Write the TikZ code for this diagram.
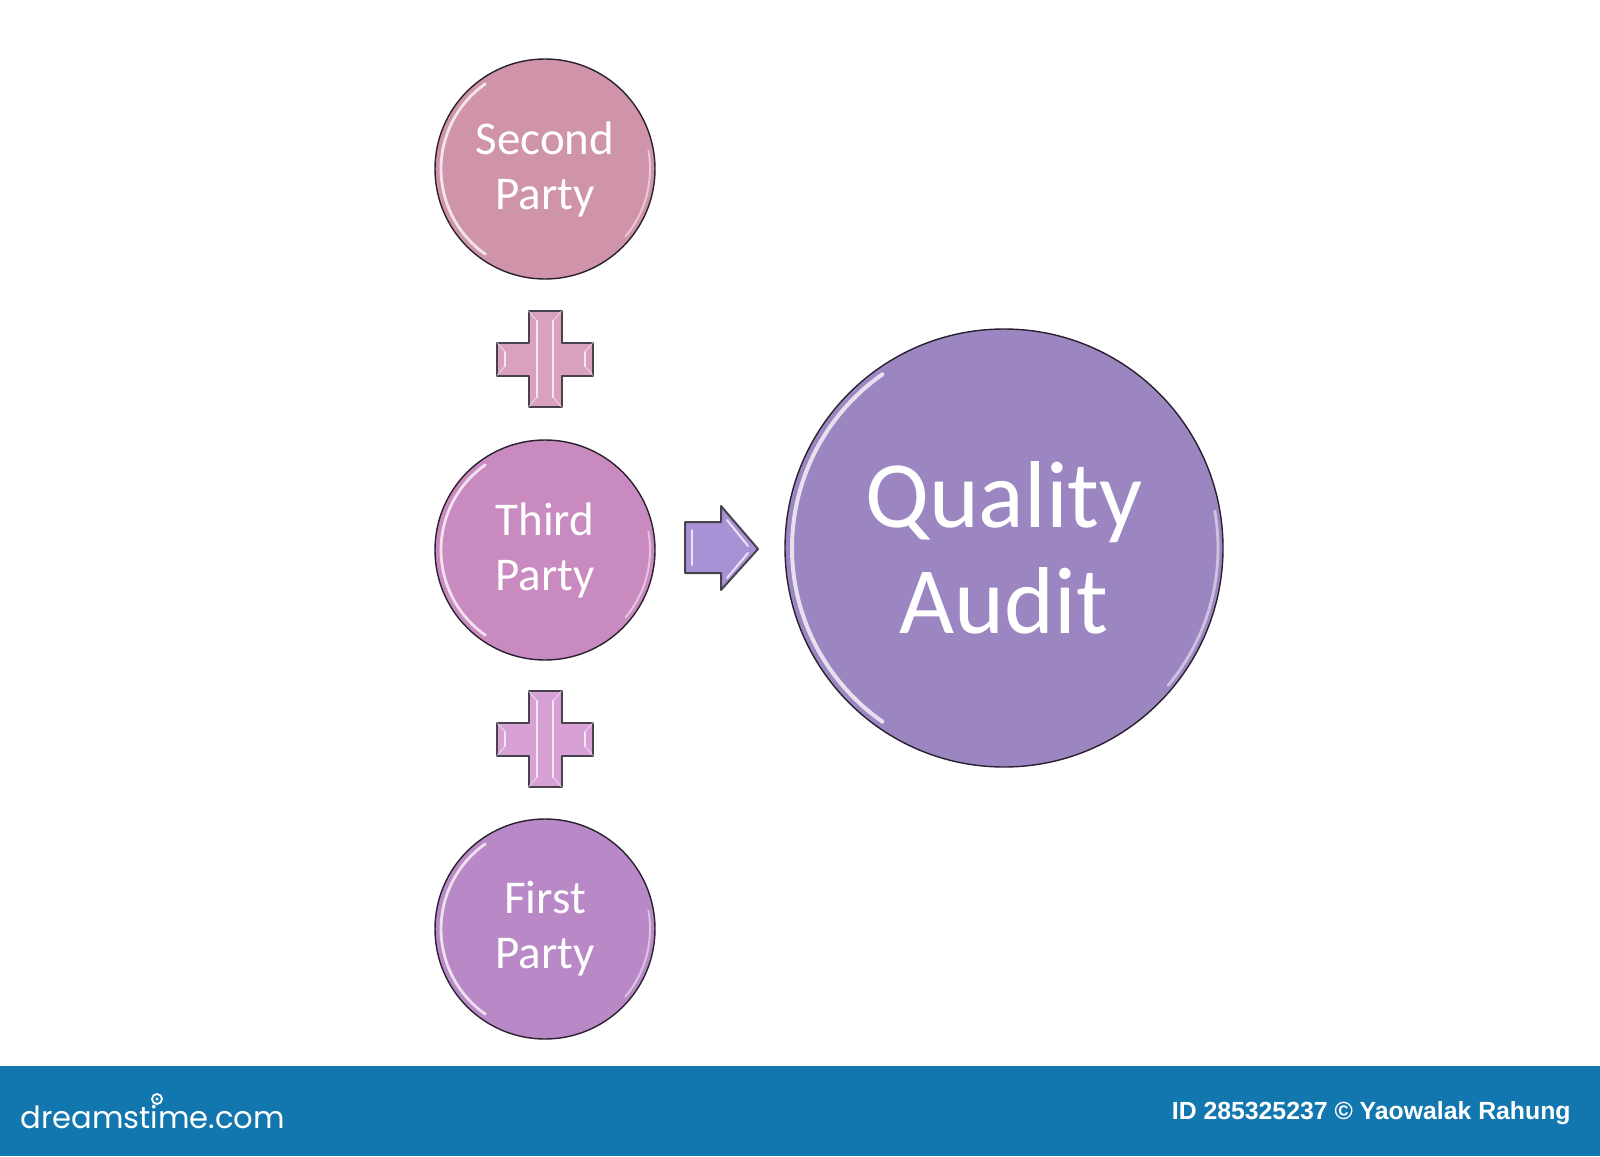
\documentclass[tikz,border=0pt]{standalone}
\usepackage{fontspec}
\setmainfont{Carlito}
\newfontfamily\logofont{Poppins}
\newfontfamily\idfont{Liberation Sans}
\definecolor{secondc}{HTML}{CF94A9}
\definecolor{thirdc}{HTML}{C98ABF}
\definecolor{firstc}{HTML}{B988C7}
\definecolor{qac}{HTML}{9C86C1}
\definecolor{plusA}{HTML}{D9A1BB}
\definecolor{plusB}{HTML}{D7A1D5}
\definecolor{arrowc}{HTML}{A792D6}
\definecolor{barblue}{HTML}{1277AF}
\definecolor{rim}{HTML}{2A2030}
\begin{document}
\begin{tikzpicture}[x=0.5pt,y=-0.5pt,
  party/.style={circle, draw=rim, line width=0.7pt, minimum size=110pt, inner sep=0pt,
    text=white, align=center, font=\fontsize{23.5}{27.5}\selectfont},
  bigparty/.style={circle, draw=rim, line width=0.7pt, minimum size=219pt, inner sep=0pt,
    text=white, align=center, font=\fontsize{47.5}{53}\selectfont},
  shine/.style={white, line width=1.4pt, opacity=0.75, line cap=round},
  shapeline/.style={draw=rim!85, line width=1pt, line join=round},
  plussign/.pic={
    \path[shapeline, fill=#1] (-16.5,-48) -- (16.5,-48) -- (16.5,-16.5) -- (48,-16.5) -- (48,16.5)
      -- (16.5,16.5) -- (16.5,48) -- (-16.5,48) -- (-16.5,16.5) -- (-48,16.5) -- (-48,-16.5)
      -- (-16.5,-16.5) -- cycle;
    \draw[shine, line width=1pt] (-8,-38) -- (-8,38) (8,-38) -- (8,38);
    \draw[shine, line width=1pt] (-40,-7) -- (-40,7) (40,-7) -- (40,7);
    \draw[white, opacity=0.5, line width=0.5pt] (-16.5,-48) -- (-8,-38) (16.5,-48) -- (8,-38)
      (-16.5,48) -- (-8,38) (16.5,48) -- (8,38) (-48,-16.5) -- (-40,-7) (-48,16.5) -- (-40,7)
      (48,-16.5) -- (40,-7) (48,16.5) -- (40,7);
  }
]
\useasboundingbox (0,0) rectangle (1600,1156);
\fill[white] (0,0) rectangle (1600,1156);

% circles
\node[party, fill=secondc] (second) at (545,169) {Second\\Party};
\node[party, fill=thirdc] (third) at (545,550) {Third\\Party};
\node[party, fill=firstc] (first) at (545,929) {First\\Party};
\node[bigparty, fill=qac] (qa) at (1004,548) {Quality\\Audit};

% glossy rims
\foreach \n in {second,third,first}{
  \draw[shine] (\n.center) ++(-125:104) arc[start angle=-125, end angle=-235, radius=104];
  \draw[shine, line width=1pt, opacity=0.5] (\n.center) ++(-10:105) arc[start angle=-10, end angle=40, radius=105];
}
\draw[shine, line width=2pt] (qa.center) ++(-125:212) arc[start angle=-125, end angle=-235, radius=212];
\draw[shine, line width=1.4pt, opacity=0.5] (qa.center) ++(-10:214) arc[start angle=-10, end angle=40, radius=214];

% plus signs
\pic at (545,359) {plussign=plusA};
\pic at (545,739) {plussign=plusB};

% arrow
\path[shapeline, fill=arrowc] (685,522) -- (721,522) -- (721,506) -- (758,549) -- (721,590)
  -- (721,573) -- (685,573) -- cycle;
\draw[shine, line width=1pt] (692,530) -- (692,565);
\draw[shine, line width=1pt] (727,520) -- (748,546);
\draw[shine, line width=1pt] (727,578) -- (748,553);

% bottom bar
\fill[barblue] (0,1066) rectangle (1600,1156);
\node[anchor=base west, inner sep=0pt, text=white, font=\logofont\fontsize{15.3}{16}\selectfont] (logo) at (20,1128) {dreamstime.com};
\draw[white, line width=0.9pt] (157,1099) circle[radius=5];
\fill[white] (157,1099) circle[radius=1.6];
\node[anchor=base east, inner sep=0pt, text=white, font=\idfont\bfseries\fontsize{12.4}{12}\selectfont] (id) at (1571,1119) {ID 285325237 © Yaowalak Rahung};
\end{tikzpicture}
\end{document}
